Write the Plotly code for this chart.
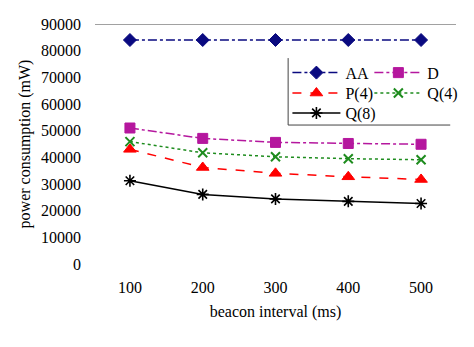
import plotly.graph_objects as go

# Beacon interval categories (ms)
intervals = ["100", "200", "300", "400", "500"]

# Power consumption (mW) per scheme
aa = [84000, 84000, 84000, 84000, 84000]
d = [51000, 47100, 45600, 45200, 44900]
p4 = [43000, 36200, 34000, 32700, 31700]
q4 = [45900, 41700, 40200, 39500, 39100]
q8 = [31200, 26100, 24400, 23500, 22700]

y_ticks = list(range(0, 90001, 10000))

FONT = "Liberation Serif, Times New Roman, DejaVu Serif, serif"

# name, values, colour, dash, marker, marker size, marker line width,
# legend id, legend x (paper), legend y (paper)
series = [
    ("AA", aa, "#0A0A80", "dashdot", "diamond", 10, 1, "legend", 0.533, 0.797),
    ("D", d, "#B5179E", "dashdot", "square", 10, 1, "legend2", 0.76, 0.797),
    ("P(4)", p4, "#FF0000", "dash", "triangle-up", 11, 1, "legend3", 0.533, 0.712),
    ("Q(4)", q4, "#1E8C1E", "dot", "x-thin-open", 9, 2, "legend4", 0.76, 0.712),
    ("Q(8)", q8, "#000000", "solid", "asterisk-open", 10, 1.6, "legend5", 0.533, 0.629),
]

legend_common = dict(
    orientation="v", xanchor="left", yanchor="middle",
    bgcolor="rgba(0,0,0,0)", font=dict(family=FONT, size=16, color="#000"),
    itemwidth=48,
)

fig = go.Figure()
legends = {}
for name, vals, color, dash, symbol, msize, mlw, leg, lx, ly in series:
    fig.add_trace(go.Scatter(
        x=intervals, y=vals, name=name, mode="lines+markers",
        line=dict(color=color, dash=dash, width=1.5),
        marker=dict(symbol=symbol, size=msize, color=color,
                    line=dict(color=color, width=mlw)),
        legend=leg,
    ))
    legends[leg] = dict(x=lx, y=ly, **legend_common)

fig.update_layout(
    width=474, height=347,
    margin=dict(l=95, r=11, t=24, b=83),
    paper_bgcolor="white", plot_bgcolor="white",
    font=dict(family=FONT, size=16, color="#000"),
    showlegend=True,
    **legends,
    xaxis=dict(
        type="category", range=[-0.48, 4.48],
        showgrid=False, zeroline=False, showline=False,
        ticks="", ticklabelstandoff=12,
        tickfont=dict(family=FONT, size=16, color="#000"),
        title=dict(text="beacon interval (ms)", standoff=10,
                   font=dict(family=FONT, size=16, color="#000")),
    ),
    yaxis=dict(
        range=[0, 90000], tickvals=y_ticks, ticktext=[str(v) for v in y_ticks],
        showgrid=False, zeroline=False, showline=False,
        ticks="", ticklabelstandoff=13,
        tickfont=dict(family=FONT, size=16, color="#000"),
        title=dict(text="power consumption (mW)", standoff=6,
                   font=dict(family=FONT, size=16, color="#000")),
    ),
    shapes=[
        # top gridline
        dict(type="line", xref="paper", yref="y", x0=0, x1=1, y0=90000, y1=90000,
             line=dict(color="#444", width=1)),
        # legend frame (left and bottom edges)
        dict(type="line", xref="paper", yref="paper", x0=0.535, x1=0.535,
             y0=0.579, y1=0.858, line=dict(color="#444", width=1)),
        dict(type="line", xref="paper", yref="paper", x0=0.535, x1=0.984,
             y0=0.579, y1=0.579, line=dict(color="#444", width=1)),
    ],
)

fig.write_html("out.html")
